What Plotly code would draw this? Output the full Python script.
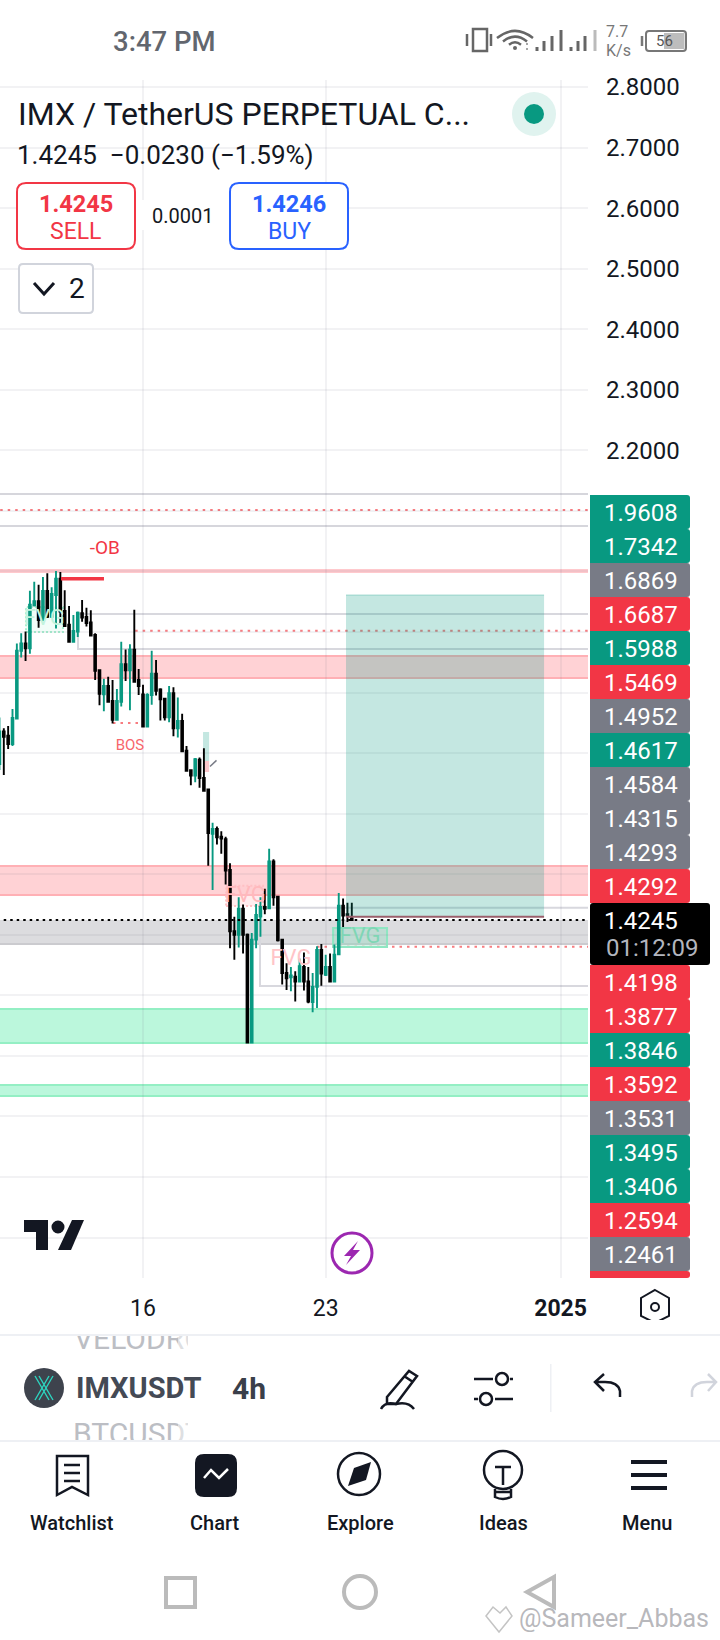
import plotly.graph_objects as go

# ---------- data ----------
opens = [1.682,1.736,1.729,1.715,1.757,1.869,1.881,1.873,1.944,1.951,1.920,1.968,1.925,1.961,1.988,1.935,1.912,1.884,1.901,1.931,1.925,1.916,1.895,1.837,1.797,1.811,
         1.786,1.755,1.785,1.847,1.837,1.871,1.821,1.797,1.744,1.796,1.831,1.805,1.790,1.759,1.799,1.741,1.753,1.704,1.672,1.663,1.689,1.659,
         1.640,1.567,1.575,1.562,1.558,1.507,1.406,1.400,1.443,1.400,1.222,1.392,1.430,1.446,1.444,1.521,1.463,
         1.392,1.337,1.330,1.331,1.323,1.347,1.323,1.289,1.314,1.375,1.334,1.347,1.323,1.368,1.448,1.434,1.427]
highs = [1.759,1.741,1.745,1.773,1.881,1.898,1.901,1.968,1.983,1.978,1.991,1.997,1.974,2.001,1.999,1.969,1.943,1.928,1.934,1.953,1.940,1.936,1.898,1.837,1.823,1.826,
         1.821,1.806,1.884,1.871,1.880,1.937,1.839,1.813,1.799,1.869,1.854,1.807,1.791,1.811,1.809,1.792,1.765,1.712,1.672,1.692,1.693,1.708,
         1.640,1.585,1.579,1.571,1.562,1.518,1.430,1.462,1.450,1.402,1.403,1.451,1.462,1.476,1.542,1.525,1.463,
         1.393,1.353,1.347,1.340,1.361,1.371,1.347,1.337,1.381,1.385,1.367,1.369,1.384,1.469,1.460,1.453,1.453]
lows = [1.672,1.664,1.707,1.712,1.757,1.858,1.852,1.864,1.942,1.907,1.920,1.923,1.923,1.906,1.915,1.909,1.884,1.884,1.892,1.917,1.909,1.894,1.821,1.779,1.769,1.785,
        1.749,1.754,1.777,1.819,1.771,1.817,1.796,1.744,1.743,1.780,1.795,1.754,1.754,1.751,1.728,1.726,1.703,1.671,1.647,1.652,1.643,1.638,
        1.514,1.474,1.549,1.534,1.483,1.378,1.359,1.379,1.369,1.222,1.222,1.378,1.397,1.434,1.443,1.448,1.389,
        1.318,1.309,1.307,1.290,1.323,1.308,1.287,1.272,1.279,1.316,1.332,1.322,1.322,1.368,1.412,1.421,1.424]
closes = [1.736,1.727,1.715,1.758,1.869,1.881,1.873,1.945,1.951,1.920,1.968,1.925,1.963,1.988,1.934,1.910,1.884,1.902,1.932,1.924,1.915,1.894,1.836,1.798,1.811,1.785,
          1.755,1.786,1.847,1.837,1.871,1.818,1.811,1.744,1.796,1.831,1.803,1.789,1.759,1.799,1.741,1.753,1.703,1.671,1.663,1.690,1.659,1.638,
          1.568,1.575,1.561,1.559,1.506,1.406,1.400,1.443,1.400,1.222,1.392,1.433,1.446,1.443,1.521,1.462,1.391,
          1.337,1.328,1.333,1.323,1.348,1.323,1.290,1.314,1.375,1.336,1.347,1.323,1.367,1.448,1.432,1.432,1.4245]
candle_index = list(range(len(opens)))

price_ticks = [2.8,2.7,2.6,2.5,2.4,2.3,2.2,2.1,2.0,1.9,1.8,1.7,1.6,1.5,1.4,1.3,1.2,1.1,1.0,0.9]
price_tick_text = ["2.8000","2.7000","2.6000","2.5000","2.4000","2.3000","2.2000"] + [""]*13
time_ticks = [33,75,129]
time_tick_text = ["16","23","<b>2025</b>"]

# full-width price bands: low, high, fill, edge
band_low  = [1.8241,1.4658,1.3849,1.2214,1.1339]
band_high = [1.8604,1.5137,1.4245,1.2775,1.1520]
band_fill = ["#ffd2d5","#ffd2d5","#dcdcdf","#bbf7dc","#bbf7dc"]
band_edge = ["#ffb0b5","#ffb0b5","#cbcbcf","#94efc4","#94efc4"]
thin_band_price = 2.0008

# price lines
gray_levels = [2.1279,2.0751]
dotted_levels = [2.1015,1.9022,1.7498,1.3804]
dotted_start = [-5,31.2,26.1,73]
dotted_end = [140,140,32.3,140]

side_values = ["1.9608","1.7342","1.6869","1.6687","1.5988","1.5469","1.4952","1.4617","1.4584","1.4315","1.4293","1.4292",
               "1.4245","1.4198","1.3877","1.3846","1.3592","1.3531","1.3495","1.3406","1.2594","1.2461",""]
side_colors = ["t","t","g","r","t","r","g","t","g","g","g","r","k","r","r","t","r","g","t","t","r","g","r"]

TEAL="#089981"; RED="#f23645"; GRAY="#787b86"; INK="#131722"; BLUE="#2962ff"
GRID="rgba(110,115,135,0.09)"
FONT="Roboto"
shapes=[]; notes=[]

# ---------- helpers, UI layer in a pixel-space axis pair ----------
def ui_path(d, stroke=None, w=2, fill=None):
    shapes.append(dict(type="path", path=d, xref="x2", yref="y2", layer="above",
                       line=dict(color=stroke or "rgba(0,0,0,0)", width=w if stroke else 0),
                       fillcolor=fill or "rgba(0,0,0,0)"))
def ui_rect(x0,y0,x1,y1,stroke=None,w=2,fill=None):
    shapes.append(dict(type="rect", x0=x0,y0=y0,x1=x1,y1=y1, xref="x2", yref="y2", layer="above",
                       line=dict(color=stroke or "rgba(0,0,0,0)", width=w if stroke else 0),
                       fillcolor=fill or "rgba(0,0,0,0)"))
def ui_circle(cx,cy,r,stroke=None,w=2,fill=None):
    shapes.append(dict(type="circle", x0=cx-r,y0=cy-r,x1=cx+r,y1=cy+r, xref="x2", yref="y2", layer="above",
                       line=dict(color=stroke or "rgba(0,0,0,0)", width=w if stroke else 0),
                       fillcolor=fill or "rgba(0,0,0,0)"))
def rrect(x0,y0,x1,y1,r):
    return (f"M {x0+r} {y0} L {x1-r} {y0} Q {x1} {y0} {x1} {y0+r} L {x1} {y1-r} Q {x1} {y1} {x1-r} {y1} "
            f"L {x0+r} {y1} Q {x0} {y1} {x0} {y1-r} L {x0} {y0+r} Q {x0} {y0} {x0+r} {y0} Z")
def note(x,y,t,size,color=INK,anchor="left",weight=None):
    f=dict(family=FONT,size=size,color=color)
    if weight: f["weight"]=weight
    notes.append(dict(x=x,y=y,text=t,xref="x2",yref="y2",xanchor=anchor,yanchor="middle",showarrow=False,font=f))

# ---------- chart zones on the price scale ----------
shapes.append(dict(type="line",xref="x",yref="y",x0=-5,x1=140,y0=thin_band_price,y1=thin_band_price,layer="below",line=dict(color="#ffc9cd",width=4)))
for lo,hi,f,e in zip(band_low,band_high,band_fill,band_edge):
    shapes.append(dict(type="rect",xref="x",yref="y",x0=-5,x1=140,y0=lo,y1=hi,layer="below",fillcolor=f,line=dict(width=0)))
    for v in (lo,hi):
        if not (f=="#dcdcdf" and v==hi):
            shapes.append(dict(type="line",xref="x",yref="y",x0=-5,x1=140,y0=v,y1=v,layer="below",line=dict(color=e,width=2)))
for v in gray_levels:
    shapes.append(dict(type="line",xref="x",yref="y",x0=-5,x1=140,y0=v,y1=v,layer="below",line=dict(color="#d6d6dc",width=2)))
for v,a,b in zip(dotted_levels,dotted_start,dotted_end):
    shapes.append(dict(type="line",xref="x",yref="y",x0=a,x1=b,y0=v,y1=v,layer="below",line=dict(color="#f77c80",width=2,dash="2.5px 5px")))
# open-ended gray boxes
for x0,top,bot in [(18.06,1.9298,1.8720),(59.9,1.4448,1.3155)]:
    shapes.append(dict(type="rect",xref="x",yref="y",x0=x0,x1=145,y0=bot,y1=top,layer="below",fillcolor="rgba(0,0,0,0)",line=dict(color="#d8d8de",width=2)))
# FVG boxes
for x0,x1,lo,hi,c,f,dash in [(6.1,14.6,1.9001,1.9413,"#a8f0d0","rgba(180,245,215,0.18)","2px 2px"),
                        (52.1,60.6,1.4476,1.4811,"#ffc0c4","rgba(255,200,205,0.35)","2px 2px"),
                        (76.7,89.1,1.3799,1.4113,"#8fe6c2","rgba(120,220,180,0.28)","solid")]:
    shapes.append(dict(type="rect",xref="x",yref="y",x0=x0,x1=x1,y0=lo,y1=hi,layer="below",fillcolor=f,line=dict(color=c,width=2,dash=dash)))
# position tools
shapes.append(dict(type="rect",xref="x",yref="y",x0=79.67,x1=125.2,y0=1.4300,y1=1.9612,layer="above",fillcolor="rgba(8,153,129,0.24)",line=dict(width=0)))
shapes.append(dict(type="line",xref="x",yref="y",x0=79.67,x1=125.2,y0=1.9612,y1=1.9612,layer="above",line=dict(color="rgba(8,153,129,0.3)",width=1)))
shapes.append(dict(type="line",xref="x",yref="y",x0=79.67,x1=125.2,y0=1.4300,y1=1.4300,layer="above",line=dict(color="#9a5f6b",width=2)))
shapes.append(dict(type="rect",xref="x",yref="y",x0=46.8,x1=48.2,y0=1.6871,y1=1.7349,layer="below",fillcolor="rgba(8,153,129,0.24)",line=dict(width=0)))
shapes.append(dict(type="rect",xref="x",yref="y",x0=46.8,x1=48.2,y0=1.6689,y1=1.6871,layer="below",fillcolor="rgba(242,54,69,0.28)",line=dict(width=0)))
shapes.append(dict(type="line",xref="x",yref="y",x0=48.4,x1=49.9,y0=1.678,y1=1.688,layer="above",line=dict(color="#787b86",width=1.5)))
# order block marker and current price
shapes.append(dict(type="line",xref="x",yref="y",x0=14.15,x1=24.03,y0=1.9881,y1=1.9881,layer="above",line=dict(color=RED,width=3.5)))
shapes.append(dict(type="line",xref="x",yref="y",x0=-5,x1=140,y0=1.4245,y1=1.4245,layer="above",line=dict(color="#000",width=2,dash="2.5px 4px")))

fig=go.Figure()
fig.add_trace(go.Scatter(x=[10.3,56.5,67,82.9],y=[1.921,1.464,1.3585,1.3948],mode="text",
    text=["FVG","FVG","FVG","FVG"],textposition="middle center",
    textfont=dict(family=FONT,size=22,color=["#c3f3dd","#ffb9bd","#ffc4c8","#7fd6b5"]),hoverinfo="skip",showlegend=False,xaxis="x",yaxis="y"))
fig.add_trace(go.Candlestick(x=candle_index,open=opens,high=highs,low=lows,close=closes,
    increasing=dict(line=dict(color=TEAL,width=1.9),fillcolor=TEAL),
    decreasing=dict(line=dict(color="#000",width=1.9),fillcolor="#000"),
    whiskerwidth=0,hoverinfo="skip",showlegend=False,xaxis="x",yaxis="y"))
fig.add_trace(go.Scatter(x=[24.2,30],y=[2.037,1.712],mode="text",text=["-OB","BOS"],textposition="middle center",
    textfont=dict(family=FONT,size=[19,15],color=[RED,"#f7666c"]),hoverinfo="skip",showlegend=False,xaxis="x",yaxis="y"))

# pixel-space overlay (clipped texts)
fig.add_trace(go.Scatter(x=[74,73],y=[1341,1436],mode="text",text=["VELODRO","BTCUSDT"],textposition="middle right",
    textfont=dict(family=FONT,size=30,color="#bcbec4"),hoverinfo="skip",showlegend=False,xaxis="x2",yaxis="y2"))

# ---------- price-label column ----------
y=495
for val,c in zip(side_values,side_colors):
    col={"t":TEAL,"g":GRAY,"r":RED,"k":"#000"}[c]
    if c=="k":
        ui_path(rrect(590,903,710,965,3),fill=col)
        note(680,921,val,24,"#fff","right"); note(604,948,"01:12:09",24,"#b2b5be")
        y=965
    else:
        h=34 if val else 7
        x1=690
        ui_path(f"M 590 {y} L {x1-3} {y} Q {x1} {y} {x1} {y+3} L {x1} {y+h-3} Q {x1} {y+h} {x1-3} {y+h} L 590 {y+h} Z",fill=col)
        if val: note(680,y+17.5,val,24,"#fff","right")
        y+=h

# ---------- header ----------
note(111,41,"3:47 PM",27.5,"#62666e",weight=500)
ui_rect(473,29,487,51,"#666",2.5); 
for xx in (467,491): ui_path(f"M {xx} 34 L {xx} 46","#666",2.5)
for r,wd in ((18,2.5),(12,2.5),(6,2.5)):
    ui_path(f"M {515-r} {48-r*0.55} Q 515 {48-r*1.35} {515+r} {48-r*0.55}","#666",wd)
ui_circle(515,48,2,fill="#666")
ui_circle(527,44,1,fill="#888"); ui_circle(527,49,1,fill="#888")
for bx,bh in zip([537,544,552,561,571,578,585,595],[4,10,15,21,4,10,15,21]):
    ui_path(f"M {bx} 51 L {bx} {51-bh}","#666" if bx!=595 else "#bbb",3)
note(604,31,"7.7",16,"#777"); note(604,50,"K/s",16,"#777")
ui_path(rrect(646,31,686,51,3),"#777",2)
ui_rect(664,33,684.5,49,fill="#bdbdbd"); ui_path("M 642 36 L 642 46","#777",2.5)
note(664,41,"56",15,"#555","center")

note(16,114,"IMX / TetherUS PERPETUAL C...",32,INK)
ui_circle(534,114,22,fill="#e0f3ef"); ui_circle(534,114,10,fill=TEAL)
note(14.5,155,"1.4245  \u22120.0230 (\u22121.59%)",26,INK)
ui_path(rrect(17,183,135,249,9),RED,2,"#ffffff")
ui_path(rrect(230,183,348,249,9),BLUE,2,"#ffffff")
note(76,204,"<b>1.4245</b>",23.5,RED,"center"); note(76,231,"SELL",23,RED,"center")
note(289,204,"<b>1.4246</b>",23.5,BLUE,"center"); note(289,231,"BUY",23,BLUE,"center")
ui_rect(136,200,229,230,fill="#ffffff")
note(182,216,"0.0001",20,INK,"center")
ui_path(rrect(19,264,93,313,4),"#d1d4dc",2,"#ffffff")
ui_path("M 34 283 L 44 294 L 54 283",INK,3)
note(67,288,"2",28,INK)

# TradingView logo and lightning mark
ui_path("M 24 1220 L 48 1220 L 48 1250 L 36 1250 L 36 1232 L 24 1232 Z",fill=INK)
ui_circle(58,1227,6.5,fill=INK)
ui_path("M 72 1220 L 84 1220 L 71 1250 L 58 1250 Z",fill=INK)
ui_circle(352,1253,20,"#9c27b0",3,"#ffffff")
ui_path("M 358 1241 L 344 1256 L 351 1256 L 346 1265 L 360 1250 L 353 1250 Z",fill="#9c27b0")

# axis footer
ui_path("M 655 1290 L 669 1298 L 669 1316 L 655 1323 L 641 1316 L 641 1298 Z",INK,2)
ui_circle(655,1307,4,INK,2)
ui_rect(0,1320,720,1335,fill="#ffffff")
ui_rect(0,1334,720,1336,fill="#eef0f4")
ui_rect(0,1441,720,1460,fill="#ffffff")
ui_rect(0,1440,720,1442,fill="#eef0f4")
ui_rect(178,1336,188,1360,fill="rgba(255,255,255,0.5)")
ui_rect(188,1336,230,1360,fill="#ffffff")
ui_rect(178,1415,188,1440,fill="rgba(255,255,255,0.5)")
ui_rect(188,1415,230,1440,fill="#ffffff")

# toolbar
ui_circle(44,1388,20,fill="#3e434d")
ui_path("M 35 1376 L 49 1400 M 39 1376 L 53 1400 M 53 1376 L 39 1400 M 49 1376 L 35 1400","#2dd4bf",1.4)
note(74,1388,"<b>IMXUSDT</b>",29,"#444a55")
ui_rect(172,1368,186,1408,fill="rgba(255,255,255,0.3)")
ui_rect(186,1368,194,1408,fill="rgba(255,255,255,0.7)")
ui_rect(194,1368,214,1408,fill="rgba(255,255,255,0.92)")
note(230,1388,"<b>4h</b>",30,"#3a3f4a")
ui_path("M 387 1397 L 409 1371 L 417 1376 L 396 1404 L 387 1404 Z M 404 1376 L 413 1382",INK,2.5)
ui_path("M 381 1409 Q 385 1401 396 1404 Q 408 1401 414 1409",INK,2.5)
ui_path("M 474 1379 L 493 1379 M 510 1379 L 513 1379 M 474 1399 L 478 1399 M 495 1399 L 513 1399",INK,2.5)
ui_circle(502,1379,6,INK,2.5); ui_circle(486,1399,6,INK,2.5)
ui_rect(550,1364,551.5,1412,fill="#eef0f4")
ui_path("M 620 1397 L 620 1391 Q 618 1382 605 1382 L 596 1382 M 604 1374 L 595 1382 L 604 1391",INK,2.5)
ui_path("M 692 1397 L 692 1391 Q 694 1382 707 1382 L 716 1382 M 708 1374 L 716 1382 L 708 1391","#d1d4dc",2.5)

# bottom navigation
ui_path("M 57 1456 L 88 1456 L 88 1495 L 72 1487 L 57 1495 Z",INK,2.5)
ui_path("M 64 1465 L 80 1465 M 64 1473 L 80 1473 M 64 1481 L 80 1481",INK,2.5)
ui_path(rrect(195,1454,237,1497,9),fill=INK)
ui_path("M 204 1478 L 211 1470 L 219 1478 L 228 1469","#fff",2.5)
ui_circle(359,1474,21,INK,2.5)
ui_path("M 371 1462 L 366 1480 L 348 1486 L 354 1468 Z",fill=INK)
ui_circle(503,1470,19,INK,2.5)
ui_path("M 495 1489 L 495 1497 Q 503 1501 511 1497 L 511 1489 M 495 1492 L 511 1492",INK,2.5)
ui_path("M 495 1467 L 511 1467 M 503 1467 L 503 1485",INK,2.5)
for by in (1462,1475,1488): ui_rect(631,by-2,667,by+2,fill=INK)
for nx,nt in zip([72,215,360,503,647],["Watchlist","Chart","Explore","Ideas","Menu"]):
    note(nx,1523,nt,20,INK,"center",weight=500)

# android bar and watermark
ui_rect(166,1578,195,1607,"#bbbbbb",4)
ui_circle(360,1592,16,"#bbbbbb",4)
ui_path("M 554 1577 L 527 1592 L 554 1607 Z","#bbbbbb",4)
ui_path("M 486 1616 L 493 1607 L 500 1613 L 506 1607 L 512 1616 L 499 1632 Z","#c4c4c4",1.5)
note(517,1618,"@Sameer_Abbas",25,"rgba(165,165,170,0.8)")

fig.update_layout(width=720,height=1640,margin=dict(l=0,r=0,t=0,b=0,autoexpand=False),
    paper_bgcolor="#ffffff",plot_bgcolor="rgba(0,0,0,0)",showlegend=False,shapes=shapes,annotations=notes,
    font=dict(family=FONT,color=INK),boxgap=0.45,
    xaxis=dict(domain=[0,588/720],range=[0.126,135.3],tickmode="array",tickvals=time_ticks,ticktext=time_tick_text,
               tickfont=dict(family=FONT,size=23,color=INK),showgrid=True,gridcolor=GRID,gridwidth=1.6,ticks="",
               zeroline=False,showline=False,anchor="y",rangeslider=dict(visible=False),ticklabelstandoff=14,automargin=False),
    yaxis=dict(domain=[1-1278/1640,1-80/1640],range=[0.8333,2.8116],side="right",anchor="x",tickmode="array",
               tickvals=price_ticks,ticktext=price_tick_text,tickfont=dict(family=FONT,size=24,color=INK),
               showgrid=True,gridcolor=GRID,gridwidth=1.6,ticks="",zeroline=False,showline=False,ticklabelstandoff=17,automargin=False),
    xaxis2=dict(domain=[0,1],range=[0,720],visible=False,anchor="y2",fixedrange=True),
    yaxis2=dict(domain=[0,1],range=[1640,0],visible=False,anchor="x2",fixedrange=True))

fig.write_html("out.html",config=dict(displayModeBar=False),post_script="document.body.style.margin='0';")
